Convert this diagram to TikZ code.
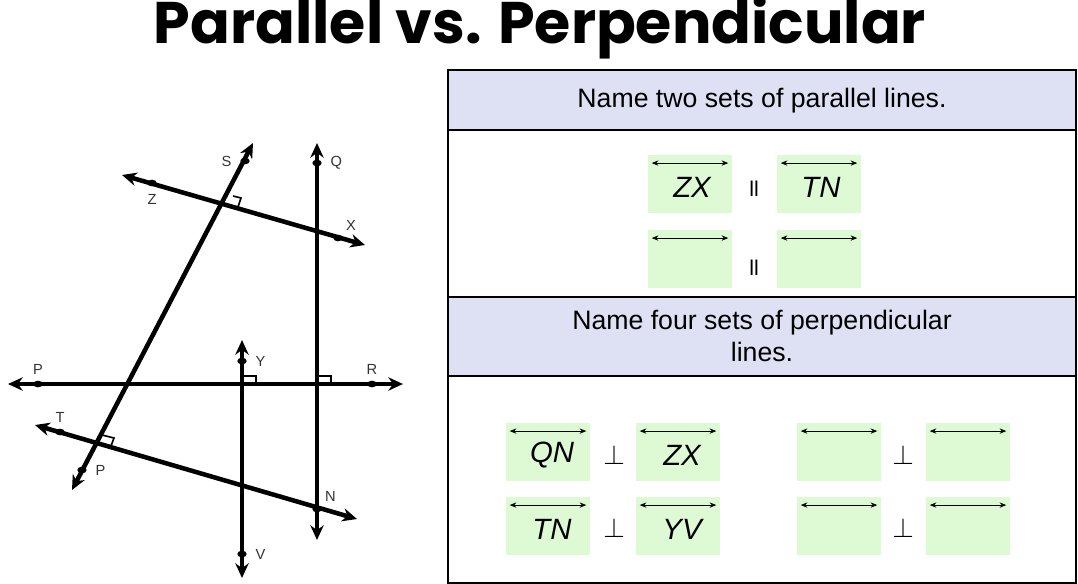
\documentclass[tikz,border=0pt]{standalone}
\usepackage{fontspec}
\setmainfont{Liberation Sans}
\newfontfamily\titlefont{Poppins}
\usetikzlibrary{arrows.meta,positioning,calc,shapes.geometric}
\definecolor{headfill}{RGB}{221,225,243}
\definecolor{ansfill}{RGB}{221,250,213}
\tikzset{
  geoline/.style={line width=3.4pt,{Stealth[length=11pt,width=10pt]}-{Stealth[length=11pt,width=10pt]}},
  gdot/.style={ellipse,fill=black,inner sep=0pt,minimum width=7pt,minimum height=5pt},
  ptlabel/.style={font=\fontsize{11}{11}\selectfont,text=black!80},
  ansbox/.style={fill=ansfill,minimum width=63pt,minimum height=43pt,inner sep=0pt},
  anstext/.style={font=\itshape\fontsize{22}{22}\selectfont},
  head/.style={font=\fontsize{20}{24}\selectfont,align=center},
  rmark/.style={line width=1.2pt}
}
\newcommand{\linearrow}[1]{%
  \draw[line width=0.6pt,{Stealth[length=5pt,width=4pt]}-{Stealth[length=5pt,width=4pt]}]
    ($(#1.north west)+(4,8)$) -- ($(#1.north east)+(-4,8)$);}
\begin{document}
\begin{tikzpicture}[x=0.75pt,y=-0.75pt]
  \useasboundingbox (0,0) rectangle (1078,583);
  % title
  \node[font=\titlefont\bfseries\fontsize{44}{44}\selectfont] (title) at (540,28) {Parallel vs. Perpendicular};

  % figure: points
  \coordinate (s1) at (253,143); \coordinate (s2) at (72,490);
  \coordinate (q1) at (317,143); \coordinate (q2) at (317,540);
  \coordinate (z1) at (122,175); \coordinate (z2) at (365,245);
  \coordinate (p1) at (8,384);   \coordinate (p2) at (403,384);
  \coordinate (y1) at (242,340); \coordinate (y2) at (242,578);
  \coordinate (t1) at (35,425);  \coordinate (t2) at (357,519);
  \draw[geoline] (s2) -- (s1);
  \draw[geoline] (q2) -- (q1);
  \draw[geoline] (z1) -- (z2);
  \draw[geoline] (p1) -- (p2);
  \draw[geoline] (y2) -- (y1);
  \draw[geoline] (t1) -- (t2);
  \foreach \nm/\px/\py in {S/245/161,Q/317/163,Z/152/183,X/338/238,P/38/384,R/372/384,Y/242/361,T/60/432,Pb/82/470,N/317/509,V/242/554}
    {\node[gdot] (d\nm) at (\px,\py) {};}
  \node[ptlabel,left=3pt of dS] (lS) {S};
  \node[ptlabel,right=3pt of dQ] (lQ) {Q};
  \node[ptlabel,below=2pt of dZ] (lZ) {Z};
  \node[ptlabel,above right=0pt and 0pt of dX] (lX) {X};
  \node[ptlabel,above=1pt of dP] (lP) {P};
  \node[ptlabel,above=1pt of dR] (lR) {R};
  \node[ptlabel,right=3pt of dY] (lY) {Y};
  \node[ptlabel,above=1pt of dT] (lT) {T};
  \node[ptlabel,right=3pt of dPb] (lPb) {P};
  \node[ptlabel,above right=0pt and 0pt of dN] (lN) {N};
  \node[ptlabel,right=3pt of dV] (lV) {V};
  % right angle marks
  \draw[rmark] (244,376) -- (256,376) -- (256,384);
  \draw[rmark] (319,376) -- (331,376) -- (331,384);
  \draw[rmark] (233,196) -- (241,198) -- (238,207) -- (229,205);
  \draw[rmark] (102,435) -- (114,438) -- (111,446) -- (99,443);

  % table
  \fill[headfill] (448,70) rectangle (1076,130);
  \fill[headfill] (448,297) rectangle (1076,376);
  \draw[line width=1.6pt] (448,70) rectangle (1076,583);
  \draw[line width=1.6pt] (448,130) -- (1076,130);
  \draw[line width=1.6pt] (448,297) -- (1076,297);
  \draw[line width=1.6pt] (448,376) -- (1076,376);
  \node[head] (h1) at (762,101) {Name two sets of parallel lines.};
  \node[head] (h2) at (762,336) {Name four sets of perpendicular\\lines.};

  % parallel answers
  \node[ansbox] (a1) at (690,184) {};
  \node[ansbox] (a2) at (819,184) {};
  \node[ansbox] (a3) at (690,259) {};
  \node[ansbox] (a4) at (819,259) {};
  \node[anstext] at ($(a1)+(2,3)$) {ZX};
  \node[anstext] at ($(a2)+(2,3)$) {TN};
  \node[font=\fontsize{16}{16}\selectfont] (par1) at (754,189) {ll};
  \node[font=\fontsize{16}{16}\selectfont] (par2) at (754,268) {ll};

  % perpendicular answers
  \foreach \nm/\cx/\cy in {b1/548/452,b2/678/452,b3/548/526,b4/678/526,c1/839/452,c2/968/452,c3/839/526,c4/968/526}
    {\node[ansbox] (\nm) at (\cx,\cy) {};}
  \node[anstext] at ($(b1)+(4,3)$) {QN};
  \node[anstext] at ($(b2)+(4,3)$) {ZX};
  \node[anstext] at ($(b3)+(4,3)$) {TN};
  \node[anstext] at ($(b4)+(4,3)$) {YV};
  \foreach \px/\py in {614/455,614/528,903/455,903/528}
    {\node[font=\fontsize{20}{20}\selectfont] at (\px,\py) {$\perp$};}

  \foreach \nm in {a1,a2,a3,a4,b1,b2,b3,b4,c1,c2,c3,c4}
    {\linearrow{\nm}}
\end{tikzpicture}
\end{document}
